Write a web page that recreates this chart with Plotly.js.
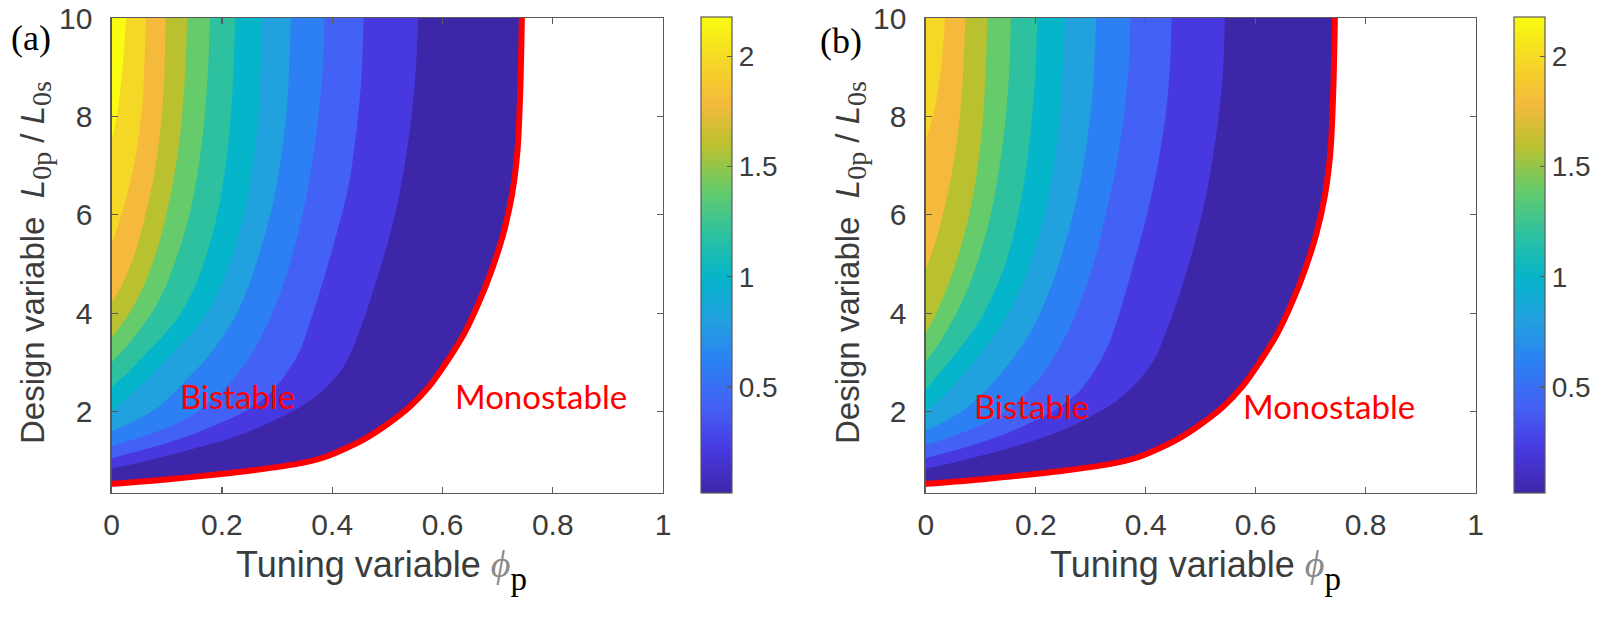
<!DOCTYPE html>
<html>
<head>
<meta charset="utf-8">
<script src="https://cdn.plot.ly/plotly-3.0.1.min.js"></script>
<style>
  html, body { margin: 0; padding: 0; background: #ffffff; }
  #chart { width: 1600px; height: 617px; }
</style>
</head>
<body>
<div id="chart"></div>
<script>
// Axis extents (tuning variable phi_p, design variable L0p/L0s)
const X_RANGE = [0, 1];
const Y_RANGE = [0.35, 10];
const X_TICKS = [0, 0.2, 0.4, 0.6, 0.8, 1];
const Y_TICKS = [2, 4, 6, 8, 10];
const CB_RANGE = [0.02, 2.18];
const CB_TICKS = [0.5, 1, 1.5, 2];

// Contour levels and the fill colour of each band (band 0 lies below the first level)
const LEVELS = [0.2, 0.38, 0.56, 0.74, 0.92, 1.10, 1.28, 1.46, 1.64, 1.82, 2.0];
const BAND_COLORS = ['#3E26A8', '#4739DF', '#4461F5', '#2C80F3', '#22A1DF', '#05B5C9',
                     '#2EC1A0', '#66CB6A', '#B9C131', '#F5BA3C', '#F5D825', '#F9FB10'];

// Continuous colour bar scale
const PARULA = [
  [0.000, '#3E26A8'], [0.091, '#4739DF'], [0.182, '#4461F5'], [0.273, '#2C80F3'],
  [0.364, '#22A1DF'], [0.455, '#05B5C9'], [0.545, '#2EC1A0'], [0.636, '#66CB6A'],
  [0.727, '#B9C131'], [0.818, '#F5BA3C'], [0.909, '#F5D825'], [1.000, '#F9FB10']
];

// Stability boundary (red): bistable to the upper left, monostable to the lower right
const boundaryPhi   = [0, 0.10, 0.19, 0.26, 0.334, 0.38, 0.418, 0.46, 0.50, 0.541, 0.575, 0.61, 0.64, 0.668, 0.69, 0.71, 0.726, 0.736, 0.741, 0.744];
const boundaryRatio = [0.53, 0.62, 0.72, 0.81, 0.93, 1.05, 1.22, 1.45, 1.74, 2.10, 2.50, 3.05, 3.60, 4.27, 4.90, 5.60, 6.40, 7.30, 8.50, 10];

// Panel (a): contour lines, one list per level in LEVELS order (left edge -> top edge)
const phiA = [
  [0, 0.05, 0.10, 0.15, 0.20, 0.25, 0.30, 0.35, 0.39, 0.42, 0.445, 0.47, 0.495, 0.52, 0.538, 0.55, 0.556],
  [0, 0.05, 0.10, 0.15, 0.20, 0.25, 0.285, 0.315, 0.34, 0.365, 0.39, 0.41, 0.43, 0.445, 0.453, 0.457],
  [0, 0.05, 0.10, 0.15, 0.19, 0.22, 0.25, 0.275, 0.295, 0.32, 0.34, 0.36, 0.375, 0.383, 0.386],
  [0, 0.04, 0.08, 0.11, 0.14, 0.17, 0.20, 0.225, 0.25, 0.27, 0.29, 0.305, 0.318, 0.325],
  [0, 0.03, 0.06, 0.09, 0.12, 0.15, 0.175, 0.20, 0.22, 0.24, 0.255, 0.266, 0.273],
  [0, 0.03, 0.06, 0.09, 0.12, 0.145, 0.165, 0.185, 0.20, 0.212, 0.22, 0.224],
  [0, 0.025, 0.05, 0.075, 0.10, 0.12, 0.14, 0.155, 0.168, 0.175, 0.178],
  [0, 0.02, 0.04, 0.06, 0.08, 0.097, 0.112, 0.125, 0.133, 0.137],
  [0, 0.02, 0.04, 0.058, 0.075, 0.088, 0.095, 0.098],
  [0, 0.015, 0.03, 0.045, 0.056, 0.062],
  [0, 0.012, 0.02, 0.026]
];
const ratioA = [
  [0.84, 0.96, 1.10, 1.25, 1.40, 1.60, 1.85, 2.15, 2.50, 2.90, 3.50, 4.30, 5.20, 6.30, 7.50, 8.70, 10],
  [1.05, 1.20, 1.36, 1.55, 1.78, 2.05, 2.35, 2.75, 3.20, 4.00, 4.90, 5.70, 6.60, 7.80, 8.80, 10],
  [1.30, 1.47, 1.67, 1.95, 2.30, 2.65, 3.10, 3.60, 4.10, 4.90, 5.70, 6.80, 8.00, 9.00, 10],
  [1.60, 1.80, 2.05, 2.35, 2.70, 3.05, 3.50, 3.95, 4.60, 5.30, 6.10, 7.00, 8.20, 10],
  [2.00, 2.30, 2.60, 2.95, 3.30, 3.65, 4.05, 4.60, 5.20, 6.00, 6.90, 8.00, 10],
  [2.50, 2.80, 3.15, 3.50, 3.90, 4.40, 4.95, 5.70, 6.50, 7.50, 8.70, 10],
  [3.00, 3.30, 3.65, 4.05, 4.60, 5.20, 5.95, 6.80, 7.90, 9.00, 10],
  [3.50, 3.80, 4.15, 4.60, 5.20, 5.90, 6.70, 7.70, 8.80, 10],
  [4.20, 4.60, 5.15, 5.85, 6.70, 7.70, 8.70, 10],
  [5.40, 5.90, 6.50, 7.30, 8.30, 10],
  [7.50, 8.20, 9.00, 10]
];

// Panel (b): contour lines for the first ten levels (the 2.0 level is not reached)
const phiB = [
  [0, 0.05, 0.10, 0.15, 0.20, 0.25, 0.30, 0.345, 0.385, 0.415, 0.44, 0.462, 0.486, 0.51, 0.528, 0.54, 0.544],
  [0, 0.05, 0.10, 0.15, 0.20, 0.245, 0.28, 0.308, 0.332, 0.355, 0.378, 0.40, 0.42, 0.436, 0.444, 0.447],
  [0, 0.05, 0.10, 0.145, 0.18, 0.21, 0.238, 0.262, 0.282, 0.305, 0.325, 0.345, 0.36, 0.369, 0.372],
  [0, 0.04, 0.075, 0.105, 0.133, 0.16, 0.187, 0.21, 0.233, 0.253, 0.272, 0.288, 0.302, 0.31],
  [0, 0.03, 0.057, 0.083, 0.11, 0.135, 0.158, 0.18, 0.20, 0.218, 0.233, 0.245, 0.253],
  [0, 0.025, 0.05, 0.077, 0.102, 0.125, 0.145, 0.163, 0.178, 0.19, 0.199, 0.203],
  [0, 0.02, 0.04, 0.06, 0.08, 0.10, 0.118, 0.133, 0.145, 0.152, 0.155],
  [0, 0.015, 0.03, 0.047, 0.064, 0.08, 0.093, 0.103, 0.109, 0.112],
  [0, 0.015, 0.03, 0.045, 0.058, 0.067, 0.072],
  [0, 0.015, 0.027, 0.035]
];
const ratioB = [
  [0.84, 0.96, 1.10, 1.25, 1.42, 1.63, 1.90, 2.20, 2.60, 3.05, 3.70, 4.40, 5.30, 6.40, 7.60, 8.80, 10],
  [1.05, 1.20, 1.37, 1.57, 1.82, 2.10, 2.42, 2.85, 3.35, 4.10, 5.00, 5.90, 6.90, 8.00, 9.00, 10],
  [1.32, 1.50, 1.72, 2.00, 2.35, 2.72, 3.20, 3.70, 4.25, 5.00, 5.90, 6.90, 8.00, 9.00, 10],
  [1.62, 1.83, 2.08, 2.38, 2.72, 3.10, 3.55, 4.05, 4.70, 5.40, 6.20, 7.10, 8.30, 10],
  [1.98, 2.28, 2.60, 2.95, 3.32, 3.72, 4.15, 4.70, 5.35, 6.10, 7.00, 8.10, 10],
  [2.45, 2.78, 3.12, 3.50, 3.92, 4.45, 5.00, 5.75, 6.60, 7.60, 8.80, 10],
  [3.00, 3.32, 3.68, 4.10, 4.60, 5.25, 6.00, 6.90, 7.90, 9.00, 10],
  [3.60, 3.90, 4.28, 4.75, 5.35, 6.05, 6.85, 7.80, 8.90, 10],
  [4.90, 5.35, 5.95, 6.70, 7.60, 8.70, 10],
  [7.50, 8.10, 8.90, 10]
];

// Region labels
const REGION_TEXT = ['Bistable', 'Monostable'];
const labelPhiA = [0.229, 0.779], labelRatioA = [2.32, 2.32];
const labelPhiB = [0.193, 0.733], labelRatioB = [2.11, 2.11];

const AXIS_GRAY = '#5a5a5a';
const TEXT_GRAY = '#3c3c3c';
const SANS = 'Liberation Sans, Arial, sans-serif';
const SERIF_CSS = 'font-family:Liberation Serif';

// Area where the quantity exceeds a level: between the level curve and the phi = 0 edge.
// Every curve rises monotonically, so filling horizontally to x = 0 closes it along
// the left edge and the top edge of the window.
function region(xs, ys, color, xa, ya) {
  return {
    type: 'scatter', mode: 'lines', xaxis: xa, yaxis: ya,
    x: xs, y: ys, fill: 'tozerox', fillcolor: color,
    line: { width: 0, color: color, shape: 'spline', smoothing: 0.8 },
    hoverinfo: 'skip', showlegend: false
  };
}

function panelTraces(phiSets, ratioSets, xa, ya) {
  const out = [region(boundaryPhi, boundaryRatio, BAND_COLORS[0], xa, ya)];
  phiSets.forEach((xs, k) => out.push(region(xs, ratioSets[k], BAND_COLORS[k + 1], xa, ya)));
  out.push({
    type: 'scatter', mode: 'lines', xaxis: xa, yaxis: ya,
    x: boundaryPhi, y: boundaryRatio,
    line: { color: '#FF0000', width: 6, shape: 'spline', smoothing: 0.8 },
    hoverinfo: 'skip', showlegend: false
  });
  return out;
}

function colorbarTrace(xa, ya, xPos) {
  return {
    type: 'scatter', mode: 'markers', xaxis: xa, yaxis: ya,
    x: [X_RANGE[0], X_RANGE[0]], y: [Y_RANGE[1], Y_RANGE[1]],
    marker: {
      size: 1, opacity: 0, color: CB_RANGE, cmin: CB_RANGE[0], cmax: CB_RANGE[1],
      colorscale: PARULA, showscale: true,
      colorbar: {
        x: xPos, xanchor: 'left', y: 1 - 16.7 / 617, yanchor: 'top',
        lenmode: 'pixels', len: 476, thicknessmode: 'pixels', thickness: 31,
        xpad: 0, ypad: 0, outlinewidth: 1.2, outlinecolor: AXIS_GRAY,
        tickvals: CB_TICKS, ticks: 'inside', ticklen: 5, tickwidth: 1.2, tickcolor: AXIS_GRAY,
        tickfont: { family: SANS, size: 28, color: TEXT_GRAY },
        ticklabelpad: 7
      }
    },
    hoverinfo: 'skip', showlegend: false
  };
}

const xTitle = 'Tuning variable <span style="' + SERIF_CSS + ';color:#8a8a8a;font-size:38px"><i>ϕ</i></span>' +
               '<sub><sub><span style="' + SERIF_CSS + ';color:#000000;font-size:33px">p</span></sub></sub>';
const yTitle = 'Design variable\u00A0\u00A0<i>L</i><sub><span style="' + SERIF_CSS + ';font-size:28px">0p</span></sub>' +
               '\u00A0/\u00A0<i>L</i><sub><span style="' + SERIF_CSS + ';font-size:28px">0s</span></sub>';

function xAxis(domain, anchor) {
  return {
    domain: domain, anchor: anchor, range: X_RANGE, tickvals: X_TICKS,
    ticks: 'inside', ticklen: 6, tickwidth: 1.2, tickcolor: AXIS_GRAY,
    showline: true, linecolor: AXIS_GRAY, linewidth: 1.3, mirror: 'ticks',
    showgrid: false, zeroline: false, ticklabelstandoff: 5,
    tickfont: { family: SANS, size: 30, color: TEXT_GRAY }
  };
}
function yAxis(anchor) {
  return {
    domain: [0.2015, 0.9708], anchor: anchor, range: Y_RANGE, tickvals: Y_TICKS,
    ticks: 'inside', ticklen: 6, tickwidth: 1.2, tickcolor: AXIS_GRAY,
    showline: true, linecolor: AXIS_GRAY, linewidth: 1.3, mirror: 'ticks',
    showgrid: false, zeroline: false, ticklabelstandoff: 12,
    tickfont: { family: SANS, size: 30, color: TEXT_GRAY }
  };
}

function regionLabels(phis, ratios, xa, ya) {
  return REGION_TEXT.map((t, i) => ({
    xref: xa, yref: ya, x: phis[i], y: ratios[i], text: t, showarrow: false,
    xanchor: 'center', yanchor: 'middle',
    font: { family: 'Lato, Open Sans, sans-serif', size: 33, color: '#FF0000' }
  }));
}

// Axis titles, placed beside the tick labels of each panel
function xTitleNote(xa) {
  return {
    xref: xa, yref: 'paper', x: 0.49, y: 1 - 541 / 617, xanchor: 'center', yanchor: 'top',
    text: xTitle, showarrow: false, font: { family: SANS, size: 36, color: TEXT_GRAY }
  };
}
function yTitleNote(px) {
  return {
    xref: 'paper', yref: 'paper', x: px / 1600, y: 1 - 263 / 617, xanchor: 'center', yanchor: 'middle',
    textangle: -90, text: yTitle, showarrow: false, font: { family: SANS, size: 33, color: TEXT_GRAY }
  };
}

const data = []
  .concat(panelTraces(phiA, ratioA, 'x', 'y'))
  .concat(panelTraces(phiB, ratioB, 'x2', 'y2'))
  .concat([colorbarTrace('x', 'y', 701 / 1600), colorbarTrace('x2', 'y2', 1514 / 1600)]);

const layout = {
  width: 1600, height: 617,
  margin: { l: 0, r: 0, t: 0, b: 0 },
  paper_bgcolor: '#ffffff', plot_bgcolor: '#ffffff',
  showlegend: false,
  xaxis: xAxis([0.0698, 0.4144], 'y'),
  yaxis: yAxis('x'),
  xaxis2: xAxis([0.5786, 0.9223], 'y2'),
  yaxis2: yAxis('x2'),
  annotations: [
    { xref: 'paper', yref: 'paper', x: 31 / 1600, y: 1 - 38 / 617, text: '(a)', showarrow: false,
      xanchor: 'center', yanchor: 'middle',
      font: { family: 'Liberation Serif, Times New Roman, serif', size: 36, color: '#000000' } },
    { xref: 'paper', yref: 'paper', x: 841 / 1600, y: 1 - 41 / 617, text: '(b)', showarrow: false,
      xanchor: 'center', yanchor: 'middle',
      font: { family: 'Liberation Serif, Times New Roman, serif', size: 36, color: '#000000' } },
    xTitleNote('x'), xTitleNote('x2'), yTitleNote(36), yTitleNote(851)
  ].concat(regionLabels(labelPhiA, labelRatioA, 'x', 'y'))
   .concat(regionLabels(labelPhiB, labelRatioB, 'x2', 'y2'))
};

Plotly.newPlot('chart', data, layout, { displayModeBar: false, staticPlot: true });
</script>
</body>
</html>
